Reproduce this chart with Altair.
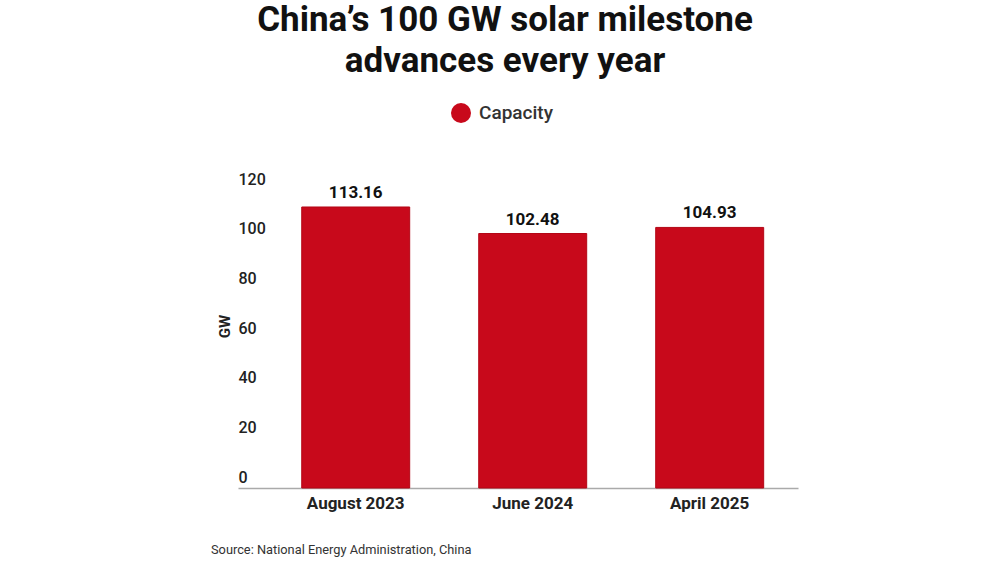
import altair as alt
import pandas as pd

# Solar capacity added in the 12 months to each milestone date (GW)
periods = ["August 2023", "June 2024", "April 2025"]
capacity_gw = [113.16, 102.48, 104.93]
series_name = ["Capacity", "Capacity", "Capacity"]
y_ticks = [0, 20, 40, 60, 80, 100, 120]

df = pd.DataFrame({"period": periods, "gw": capacity_gw, "series": series_name})

RED = "#C8091B"
FONT = "Roboto"

x_enc = alt.X(
    "period:N",
    sort=periods,
    title=None,
    scale=alt.Scale(paddingInner=0.39, paddingOuter=0.277, align=0.65),
    axis=alt.Axis(
        labelFont=FONT, labelFontSize=17, labelFontWeight="bold", labelColor="#222",
        labelAngle=0, labelPadding=7, ticks=False, domainColor="#aaaaaa",
        domainWidth=1.5, grid=False,
    ),
)
y_enc = alt.Y(
    "gw:Q",
    title="GW",
    scale=alt.Scale(domain=[0, 120], nice=False),
    axis=alt.Axis(
        values=y_ticks, grid=False, domain=False, ticks=False,
        labelFont=FONT, labelFontSize=16, labelColor="#222", labelFontWeight=500,
        labelAlign="left", labelBaseline="bottom", labelPadding=0, labelOffset=-3,
        titleFont=FONT, titleFontSize=15, titleFontWeight="bold", titleColor="#222",
        titleAngle=-90, titleX=-14, titleY=136, titleAlign="center", titleBaseline="middle",
    ),
)

bars = alt.Chart(df).mark_bar(color=RED, stroke="#b30716", strokeWidth=1).encode(
    x=x_enc,
    y=y_enc,
    color=alt.Color(
        "series:N",
        scale=alt.Scale(range=[RED]),
        legend=alt.Legend(
            title=None, orient="none", legendX=213, legendY=-87,
            symbolType="circle", symbolSize=400, symbolStrokeWidth=0,
            labelFont=FONT, labelFontSize=19, labelFontWeight=500, labelColor="#333",
            labelOffset=8,
        ),
    ),
)

values = alt.Chart(df).mark_text(
    font=FONT, fontSize=17, fontWeight="bold", color="#111", dy=-14
).encode(
    x=alt.X("period:N", sort=periods),
    y="gw:Q",
    text=alt.Text("gw:Q", format=".2f"),
)

source = alt.Chart(pd.DataFrame({"t": ["Source: National Energy Administration, China"]})).mark_text(
    font=FONT, fontSize=12.8, color="#333", align="left", baseline="middle"
).encode(x=alt.value(-27), y=alt.value(360), text="t:N")

chart = (
    alt.layer(bars, values, source)
    .properties(
        width=560,
        height=298,
        padding={"left": 238, "top": 190, "right": 202, "bottom": 75},
        autosize=alt.AutoSizeParams(type="none"),
        title=alt.Title(
            ["China\u2019s 100 GW solar milestone", "advances every year"],
            font=FONT, fontSize=35, fontWeight="bold", color="#111",
            anchor="middle", dx=-13, offset=24, lineHeight=41,
        ),
    )
    .configure_view(stroke=None)
)

chart.save("out.html", embed_options={"renderer": "svg", "actions": False})
